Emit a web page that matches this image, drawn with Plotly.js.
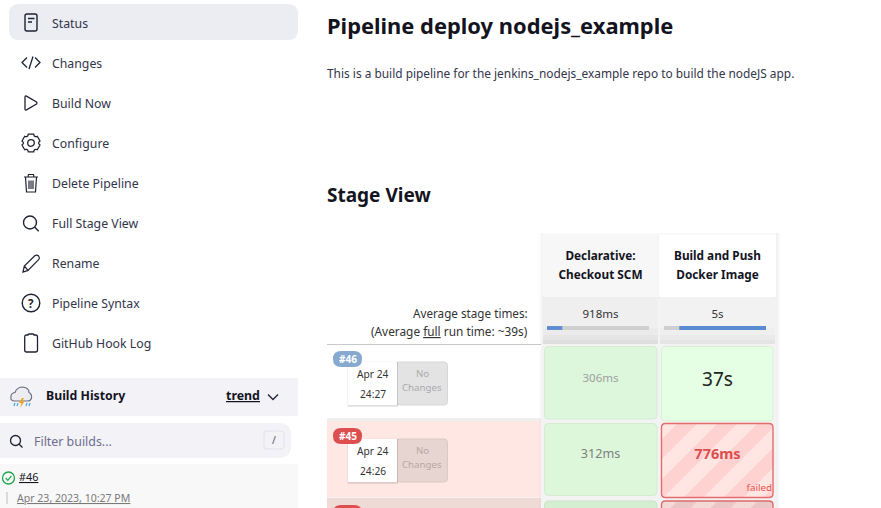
<!DOCTYPE html>
<html><head><meta charset="utf-8">
<script src="https://cdn.plot.ly/plotly-3.0.1.min.js"></script>
<style>html,body{margin:0;padding:0;background:#fff;overflow:hidden}#c{width:881px;height:508px}</style>
</head><body><div id="c"></div>
<script>
// ---- content ----
const navLabels = ["Status","Changes","Build Now","Configure","Delete Pipeline","Full Stage View","Rename","Pipeline Syntax","GitHub Hook Log"];
const stageLine1 = ["Declarative:","Build and Push"];
const stageLine2 = ["Checkout SCM","Docker Image"];
const avgTimes = ["918ms","5s"];
const avgBarStart = [0,0.15];
const avgBarEnd = [0.15,1];
const buildIds = ["#46","#45"];
const buildDays = ["Apr 24","Apr 24"];
const buildTimes = ["24:27","24:26"];
const stage1Times = ["306ms","312ms"];
const stage2Times = ["37s","776ms"];

const FONT = '"Noto Sans", sans-serif';
const INK = '#14141f', BODY = '#33354a';
const shapes = [], notes = [];
const W = 881, H = 508;

function rr(x0,y0,x1,y1,r,fill,line,lw){
  const p=`M${x0+r} ${y0} L${x1-r} ${y0} Q${x1} ${y0} ${x1} ${y0+r} L${x1} ${y1-r} Q${x1} ${y1} ${x1-r} ${y1} L${x0+r} ${y1} Q${x0} ${y1} ${x0} ${y1-r} L${x0} ${y0+r} Q${x0} ${y0} ${x0+r} ${y0} Z`;
  path(p,fill,line,lw);
}
function rect(x0,y0,x1,y1,fill){
  shapes.push({type:'rect',layer:'below',xref:'x',yref:'y',x0,y0,x1,y1,fillcolor:fill,line:{width:0}});
}
function path(p,fill,line,lw){
  shapes.push({type:'path',layer:'below',xref:'x',yref:'y',path:p,fillcolor:fill||'rgba(0,0,0,0)',line:{color:line||'rgba(0,0,0,0)',width:line?(lw||1.3):0}});
}
function circ(cx,cy,r,fill,line,lw){
  shapes.push({type:'circle',layer:'below',xref:'x',yref:'y',x0:cx-r,x1:cx+r,y0:cy-r,y1:cy+r,fillcolor:fill||'rgba(0,0,0,0)',line:{color:line||'rgba(0,0,0,0)',width:line?(lw||1.3):0}});
}
function txt(x,y,text,size,color,anchor,bold){
  notes.push({xref:'x',yref:'y',x,y,text:bold?`<b>${text}</b>`:text,showarrow:false,xanchor:anchor||'left',yanchor:'middle',
    font:{family:FONT,size,color},borderpad:0,borderwidth:0});
}
const U = s=>`<span style="text-decoration:underline">${s}</span>`;

// ---- sidebar ----
rr(9,4,298,40,10,'#ECEDF3');
navLabels.forEach((t,i)=>txt(52,23+40*i,t,12.3,BODY));

const IC='#1f2233';
rr(25,14,37,31,2,null,IC,1.4);
path('M28 18.5 L34.5 18.5 M28 22 L32 22',null,IC,1.4);
path('M27 57.5 L22 62.5 L27 67.5 M33 56.5 L29 69 M35 57.5 L40 62.5 L35 67.5',null,IC,1.3);
path('M25 97 Q25 95.5 26.5 96.2 L36.5 102 Q37.5 103 36.5 104 L26.5 109.8 Q25 110.5 25 109 Z',null,IC,1.3);
(function(){ // gear outline
  const cx=31,cy=143,n=6;let d='';
  for(let k=0;k<n;k++){
    const a=k*2*Math.PI/n-Math.PI/2, b=a+Math.PI/n;
    const pt=(ang,r)=>`${(cx+r*Math.cos(ang)).toFixed(1)} ${(cy+r*Math.sin(ang)).toFixed(1)}`;
    d+=(k?'L':'M')+pt(a-0.3,9.2)+' L'+pt(a+0.3,9.2)+' Q'+pt(b,6.2)+' '+pt(a+Math.PI/n*2-0.3,9.2)+' ';
  }
  path(d+'Z',null,IC,1.3);
  circ(31,143,3.3,null,IC,1.3);
})();
path('M24 177 L38 177 M28 177 L28.5 174.5 L33.5 174.5 L34 177 M25.5 177 L26.5 192 L35.5 192 L36.5 177 M29 180.5 L29 189 M31 180.5 L31 189 M33 180.5 L33 189',null,IC,1.2);
circ(30,222.5,6.5,null,IC,1.4);
path('M34.8 227.3 L38.7 231.2',null,IC,1.4);
path('M23 272 L24.3 266 L35 255.6 Q37 254.4 38.6 256 Q40 258 38.6 259.6 L28 270.4 Z M24.3 266 L28 270.4',null,IC,1.2);
circ(31,303,8.8,null,IC,1.4);
txt(31,303,'?',11.5,IC,'center',true);
path('M28 335 L26 335 Q24.7 335 24.7 337 L24.7 350 Q24.7 352 26.5 352 L35.5 352 Q37.5 352 37.5 350 L37.5 337 Q37.5 335 35.5 335 L34 335 Q34 334 33 334 L29 334 Q28 334 28 335 Z',null,IC,1.3);

// build history
rect(0,378,298,416,'#F2F2F7');
path('M15 401 Q10 401 11 396.5 Q11 393 15 392.5 Q17 387 23 387 Q29 388 29 392.5 Q32 394 31.5 398 Q30.5 401 28 401 Z','#ECECF2','#6d7283',1.2);
path('M22 398 L19 403 L21.5 403 L20 408 L24.5 401.5 L22 401.5 L24 398 Z','#F0A41E');
path('M15 403 L14 406 M18 403 L17 406 M27 403 L26 406 M30 403 L29 406',null,'#3FA7E8',1.2);
txt(46,395,'Build History',12.3,INK,'left',true);
txt(226,395,U('trend'),12.4,INK,'left',true);
path('M268 394.5 L273 399.5 L278 394.5',null,IC,1.3);

rr(-14,423,291,458,12,'#F2F2F7');
circ(15.5,440.5,5,null,IC,1.3);
path('M19.2 444.2 L22.5 447.5',null,IC,1.3);
txt(33.5,441,'Filter builds...',12.4,'#6f6e8c');
rr(264,431,284,449,3,null,'#E2E2E9',1);
txt(274,440,'/',10.5,'#555770','center');

rect(0,464,298,508,'#F8F8F8');
circ(8.5,478,6,null,'#1EA64B',1.3);
path('M5.7 478 L7.8 480.3 L11.4 475.8',null,'#1EA64B',1.2);
txt(19,476.5,U(buildIds[0]),10.8,INK);
path('M7 492 L7 504',null,'#BDBDBD',1);
txt(17,497.5,U('Apr 23, 2023, 10:27 PM'),10.55,'#7a7a7a');

// ---- heading ----
txt(327,25,'Pipeline deploy nodejs_example',21.9,INK,'left',true);
txt(327,73,'This is a build pipeline for the jenkins_nodejs_example repo to build the nodeJS app.',11.9,BODY);
txt(327,195,'Stage View',19,INK,'left',true);

// ---- stage table: left column ----
txt(528,313,'Average stage times:',11.7,'#333','right');
txt(528,330.5,`(Average ${U('full')} run time: ~39s)`,11.85,'#333','right');
rect(327,344,541,345,'#C9C9C9');
rect(327,345,541,418,'#FFFFFF');
rect(327,418,541,421,'#EFEFEF');
rect(327,421,541,497,'#FFE8E3');
rect(327,497,541,498,'#F6F2F0');
rect(327,498,541,508,'#EFDBD6');

// column block + shadows
rect(539,233,541,508,'rgba(0,0,0,0.015)');
rect(541,233,542.5,508,'rgba(0,0,0,0.045)');
rect(776.5,233,778,508,'rgba(0,0,0,0.06)');
rect(778,233,780,508,'rgba(0,0,0,0.02)');
rect(542,233,777,235,'rgba(0,0,0,0.025)');
rect(542,235,777,508,'#F3F3F3');
rect(542.5,235,658,297,'#F7F7F7');
rect(659,235,776,297,'#FFFFFF');
rect(542.5,297,776,298,'#E6E6E6');
// average cells (banded fade to the bottom)
[['#EFEFEF','#F2F2F2',297,328],['#EBEBEB','#EFEFEF',328,335],['#E5E5E5','#EAEAEA',335,340],['#DEDEDE','#E4E4E4',340,344]].forEach(b=>{
  rect(543,b[2],658,b[3],b[0]); rect(660,b[2],775,b[3],b[1]);
});

// build row cards
const rowTop=[362,439];
buildIds.forEach((id,i)=>{
  const t=rowTop[i];
  rr(396,t,447.5,t+43,3.5,i?'#E6D5D0':'#E3E3E3',i?'#DCC9C4':'#D6D6D6',1);
  rect(347,t-0.5,398,t+45,'rgba(0,0,0,0.05)');
  rect(348,t,398,t+44.5,'rgba(0,0,0,0.08)');
  rect(348,t,397,t+43,'#FFFFFF');
  rr(333,t-11,362,t+5,8,i?'#DD4F4F':'#87A9CF');
  txt(347.5,t-3,id,10,'#FFFFFF','center',true);
  txt(372.5,t+11.5,buildDays[i],10.2,'#333','center');
  txt(372.5,t+31.5,buildTimes[i],10.2,'#333','center');
  txt(422,t+11,'No',9.7,i?'#B9A8A3':'#ABABAB','center');
  txt(422,t+25,'Changes',9.7,i?'#B9A8A3':'#ABABAB','center');
});
rr(333,505,362,525,8,'#DD4F4F');

// stage cells
rr(544.5,346.5,657,419,4,'#DDF7DC','#D4ECD3',1);
rr(661.5,346.5,773,421,4,'#E4FFE3','#D8F0D7',1);
rr(544.5,423.5,657,495.5,4,'#DCF7DA','#D3ECD2',1);
rr(544.5,501,657,530,4,'#D4EED2','#CBE3CA',1);

function clipBand(x0,y0,x1,y1,a,b){
  let poly=[[x0,y0],[x1,y0],[x1,y1],[x0,y1]];
  const cut=(pts,keep,val)=>{ // keep(u) on u=x+y, crossing at u=val
    const out=[];
    pts.forEach((p,i)=>{
      const q=pts[(i+1)%pts.length],up=p[0]+p[1],uq=q[0]+q[1];
      if(keep(up)) out.push(p);
      if(keep(up)!==keep(uq)){const t=(val-up)/(uq-up);out.push([p[0]+t*(q[0]-p[0]),p[1]+t*(q[1]-p[1])]);}
    });
    return out;
  };
  poly=cut(poly,u=>u>=a,a);
  if(poly.length) poly=cut(poly,u=>u<=b,b);
  return poly;
}
function stripes(x0,y0,x1,y1,bg,dark,edge,phase){
  rr(x0,y0,x1,y1,4,bg);
  const period=40, band=20;
  for(let u=x0+y0+phase-period;u<x1+y1;u+=period){
    const p=clipBand(x0+0.5,y0+0.5,x1-0.5,y1-0.5,u,u+band);
    if(p.length>2) path('M'+p.map(q=>q[0].toFixed(1)+' '+q[1].toFixed(1)).join(' L')+' Z',dark);
  }
  rr(x0,y0,x1,y1,4,null,edge,1.4);
}
stripes(661.5,423.5,773,497.5,'#FFE6E2','#FFD2D2','#E56A6A',16);
stripes(661.5,501,773,540,'#F3DAD6','#EBC6C6','#DD6A6A',16);

// ---- traces drawn through the axes ----
const colX0=[547,664], colW=102, barY=[328,328];
const trTrack={type:'bar',orientation:'h',x:avgBarStart.map(()=>colW),base:colX0,y:barY,width:3.8,marker:{color:'#CFCFCF',line:{width:0}},hoverinfo:'skip'};
const trFill={type:'bar',orientation:'h',x:avgBarEnd.map((e,i)=>(e-avgBarStart[i])*colW),base:avgBarStart.map((s,i)=>colX0[i]+s*colW),y:barY,width:3.8,marker:{color:'#5B8BD0',line:{width:0}},hoverinfo:'skip'};
const trHead={type:'scatter',mode:'text',x:[600.5,717.5,600.5,717.5],y:[257.5,257.5,276.5,276.5],
  text:[...stageLine1,...stageLine2].map(s=>`<b>${s}</b>`),
  textposition:'middle center',textfont:{family:FONT,size:11.8,color:INK},hoverinfo:'skip'};
const trAvg={type:'scatter',mode:'text',x:[600.5,717.5],y:[315,315],text:avgTimes,textposition:'middle center',textfont:{family:FONT,size:11.5,color:'#333'},hoverinfo:'skip'};
const trS1={type:'scatter',mode:'text',x:[600.5,600.5],y:[379.5,455],text:stage1Times,textposition:'middle center',
  textfont:{family:FONT,size:[11.5,12.6],color:['#A0A0A0','#808080']},hoverinfo:'skip'};
const trS2={type:'scatter',mode:'text',x:[717.5,717.5],y:[381,455.5],text:[stage2Times[0],`<b>${stage2Times[1]}</b>`],textposition:'middle center',
  textfont:{family:FONT,size:[19,14.5],color:['#222','#DD4F4F']},hoverinfo:'skip'};
const trFail={type:'scatter',mode:'text',x:[772],y:[488.5],text:['failed'],textposition:'middle left',textfont:{family:FONT,size:9.8,color:'#E8504F'},hoverinfo:'skip'};

Plotly.newPlot('c',[trTrack,trFill,trHead,trAvg,trS1,trS2,trFail],{
  width:W,height:H,margin:{l:0,r:0,t:0,b:0,pad:0},paper_bgcolor:'#fff',plot_bgcolor:'rgba(0,0,0,0)',
  showlegend:false,barmode:'overlay',hovermode:false,
  xaxis:{visible:false,range:[0,W],fixedrange:true},
  yaxis:{visible:false,range:[H,0],fixedrange:true},
  shapes,annotations:notes
},{displayModeBar:false,staticPlot:true});
</script></body></html>
